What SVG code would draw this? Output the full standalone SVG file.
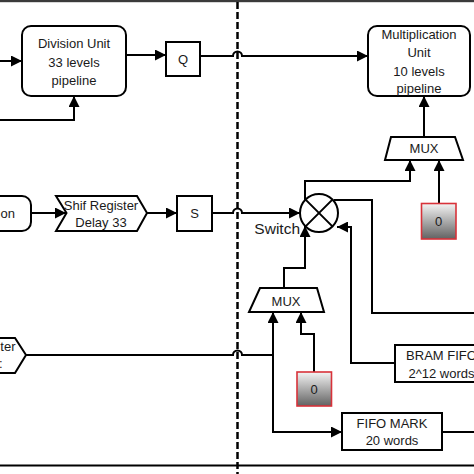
<svg xmlns="http://www.w3.org/2000/svg" width="474" height="474" viewBox="0 0 474 474">
  <defs>
    <marker id="arr" markerUnits="userSpaceOnUse" markerWidth="11" markerHeight="11" refX="10" refY="5" orient="auto" viewBox="0 0 10 10">
      <path d="M0,0 L10,5 L0,10 z" fill="#000"/>
    </marker>
    <linearGradient id="grad" x1="0" y1="0" x2="0" y2="1">
      <stop offset="0" stop-color="#f4f4f4"/>
      <stop offset="1" stop-color="#626262"/>
    </linearGradient>
    <style>
      .box { fill: #fff; stroke: #000; stroke-width: 2; }
      .zero { fill: url(#grad); stroke: #d8323a; stroke-width: 1.6; }
      .t { font-family: "Liberation Sans", Arial, sans-serif; font-size: 13px; fill: #1a1a1a; text-anchor: middle; }
      .c { fill: none; stroke: #000; stroke-width: 2; }
      .ca { fill: none; stroke: #000; stroke-width: 2; marker-end: url(#arr); }
    </style>
  </defs>
  <rect x="0" y="0" width="474" height="474" fill="#fff"/>
  <rect x="0" y="0" width="474" height="2.2" fill="#3a3a3a"/>
  <line x1="237.5" y1="2" x2="237.5" y2="474" stroke="#000" stroke-width="2.5" stroke-dasharray="7 3"/>

  <g id="connectors">
    <path class="ca" d="M0,61 H22"/>
    <path class="ca" d="M0,120 H74 V96"/>
    <path class="ca" d="M126,55 H166"/>
    <path class="ca" d="M200,56 H233 a4.5,4.5 0 0 1 9,0 H368"/>
    <path class="ca" d="M424,137 V96"/>
    <path class="ca" d="M305,200 V181 H410 V160"/>
    <path class="ca" d="M439,203 V160"/>
    <path class="ca" d="M212,213 H233 a4.5,4.5 0 0 1 9,0 H300"/>
    <path class="c" d="M334,200 H372 V313 H474"/>
    <path class="ca" d="M395,363 H351 V227 H337"/>
    <path class="ca" d="M284,288 V268 H305 V226"/>
    <path class="ca" d="M31,213 H66"/>
    <path class="ca" d="M147,213 H177"/>
    <path class="c" d="M26,355 H233 a4.5,4.5 0 0 1 9,0 H273"/>
    <path class="ca" d="M273,355 V312"/>
    <path class="ca" d="M273,355 V432 H342"/>
    <path class="ca" d="M314,372 V334 H301 V312"/>
    <path class="c" d="M442,432 H474"/>
    <path class="c" d="M0,465.5 H474"/>
  </g>

  <g id="division">
    <rect class="box" x="22" y="26" width="104" height="70" rx="9"/>
    <text class="t" x="74" y="47.5">Division Unit</text>
    <text class="t" x="74" y="66.5">33 levels</text>
    <text class="t" x="74" y="84.5">pipeline</text>
  </g>
  <g id="q">
    <rect class="box" x="166" y="42" width="34" height="34"/>
    <text class="t" x="183" y="63.5">Q</text>
  </g>
  <g id="mult">
    <rect class="box" x="368" y="26" width="102" height="70" rx="9"/>
    <text class="t" x="419" y="38.5">Multiplication</text>
    <text class="t" x="419" y="56.5">Unit</text>
    <text class="t" x="419" y="75.5">10 levels</text>
    <text class="t" x="419" y="92.5">pipeline</text>
  </g>
  <g id="mux1">
    <polygon class="box" points="391,137 455,137 463,160 385,160"/>
    <text class="t" x="424" y="152.5">MUX</text>
  </g>
  <g id="zero1">
    <rect class="zero" x="421.5" y="203.5" width="34.5" height="35.5"/>
    <text class="t" x="438.7" y="225.5">0</text>
  </g>
  <g id="on">
    <rect class="box" x="-40" y="196" width="71" height="35" rx="9"/>
    <text class="t" x="0.5" y="217.5" style="text-anchor:start">on</text>
  </g>
  <g id="shift">
    <polygon class="box" points="56,196 137,196 147,213 137,231 56,231 66.5,213"/>
    <text class="t" x="101" y="209.5">Shif Register</text>
    <text class="t" x="101" y="226.5">Delay 33</text>
  </g>
  <g id="s">
    <rect class="box" x="177" y="196" width="35" height="35"/>
    <text class="t" x="194.5" y="217.5">S</text>
  </g>
  <g id="switch">
    <circle class="box" cx="319" cy="213" r="19"/>
    <path class="c" d="M305.6,199.6 L332.4,226.4 M332.4,199.6 L305.6,226.4"/>
    <text class="t" x="300" y="233.5" style="font-size:15.5px;text-anchor:end">Switch</text>
  </g>
  <g id="mux2">
    <polygon class="box" points="260,288 317,288 324,312 249,312"/>
    <text class="t" x="286" y="305.5">MUX</text>
  </g>
  <g id="zero2">
    <rect class="zero" x="297" y="372" width="34.5" height="34"/>
    <text class="t" x="314" y="393.5">0</text>
  </g>
  <g id="hex">
    <polygon class="box" points="-10,338 15,338 26,355 15,373 -10,373"/>
    <text class="t" x="15.5" y="350.5" style="text-anchor:end">ter</text>
    <text class="t" x="2.5" y="367.5" style="text-anchor:end">:</text>
  </g>
  <g id="bram">
    <rect class="box" x="395" y="345" width="92" height="37"/>
    <text class="t" x="441.5" y="360">BRAM FIFO</text>
    <text class="t" x="441.5" y="378">2^12 words</text>
  </g>
  <g id="fifomark">
    <rect class="box" x="342" y="413" width="100" height="37"/>
    <text class="t" x="392" y="427.5">FIFO MARK</text>
    <text class="t" x="392" y="445">20 words</text>
  </g>
</svg>
